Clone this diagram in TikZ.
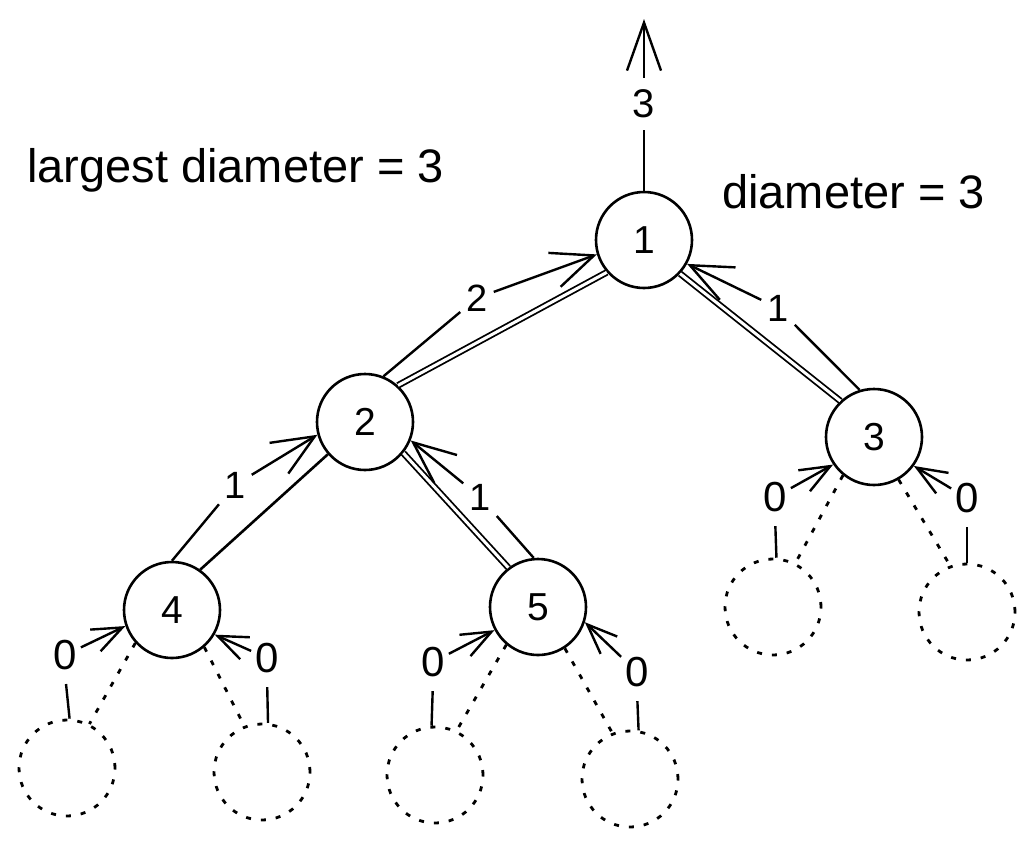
\documentclass[tikz,border=0pt]{standalone}
\usepackage{fontspec}
\setmainfont{Liberation Sans}
\usetikzlibrary{arrows.meta}
\begin{document}
\begin{tikzpicture}[x=1pt,y=-1pt,
  tnode/.style={circle,draw,line width=2.6pt,minimum size=96pt,inner sep=0pt,font=\fontsize{39}{42}\selectfont},
  dnode/.style={circle,draw,line width=2.8pt,dash pattern=on 5pt off 10pt,minimum size=96pt,inner sep=0pt},
  zlabel/.style={inner sep=4pt,font=\fontsize{42}{46}\selectfont},
  elabel/.style={inner sep=6pt,font=\fontsize{38}{42}\selectfont},
  toplabel/.style={inner sep=12pt,font=\fontsize{40}{44}\selectfont},
  titletext/.style={anchor=base west,inner sep=0pt,font=\fontsize{47}{50}\selectfont},
  treeedge/.style={line width=1.8pt,double,double distance=3pt},
  singleedge/.style={line width=2.6pt},
  dedge/.style={line width=2.8pt,dash pattern=on 5pt off 10pt},
  plainline/.style={line width=2.4pt},
  arrB/.style={line width=2.4pt,-{Straight Barb[length=48pt,width=34pt,line width=2.4pt]}},
  arrM/.style={line width=2.4pt,-{Straight Barb[length=42pt,width=36pt,line width=2.4pt]}},
  arrS/.style={line width=2.4pt,-{Straight Barb[length=30pt,width=24pt,line width=2.4pt]}}
]
\fill[white] (0,0) rectangle (1035,849);
\useasboundingbox (0,0) rectangle (1035,849);

% texts
\node[titletext] (title) at (27,182) {largest diameter = 3};
\node[titletext] (diam) at (722,208) {diameter = 3};

% tree nodes
\node[tnode] (n1) at (644,240) {1};
\node[tnode] (n2) at (365,422) {2};
\node[tnode] (n3) at (874,437) {3};
\node[tnode] (n4) at (172,610) {4};
\node[tnode] (n5) at (538,607) {5};

% dashed (empty) children
\node[dnode] (d4l) at (67,768) {};
\node[dnode] (d4r) at (262,772) {};
\node[dnode] (d5l) at (435,775) {};
\node[dnode] (d5r) at (630,779) {};
\node[dnode] (d3l) at (773,607) {};
\node[dnode] (d3r) at (967,612) {};

% tree edges
\draw[treeedge] (n2.48) -- (n1.221);
\draw[treeedge] (n1.317) -- (n3.133);
\draw[singleedge] (n4.55) -- (n2.221);
\draw[treeedge] (n2.321) -- (n5.127);

% dashed edges
\draw[dedge] (n4.222) -- (d4l.63);
\draw[dedge] (n4.311) -- (d4r.111);
\draw[dedge] (n5.230) -- (d5l.64);
\draw[dedge] (n5.303) -- (d5r.111);
\draw[dedge] (n3.231) -- (d3l.63);
\draw[dedge] (n3.300) -- (d3r.110);

% upward arrows with labels
\node[elabel] (l21) at (477,298) {2};
\draw[plainline] (n2.68) -- (l21);
\draw[arrM] (l21) -- (n1.197);

\node[elabel] (l31) at (778,308) {1};
\draw[plainline] (n3.107) -- (l31);
\draw[arrM] (l31) -- (n1.331);

\node[elabel] (l42) at (235,485) {1};
\draw[plainline] (n4.90) -- (l42);
\draw[arrM] (l42) -- (n2.195);

\node[elabel] (l52) at (480,497) {1};
\draw[plainline] (n5.95) -- (l52);
\draw[arrM] (l52) -- (n2.338);

% top arrow
\coordinate (top) at (644,19);
\node[toplabel] (l1top) at (644,104) {3};
\draw[plainline] (n1.north) -- (l1top);
\draw[arrB] (l1top) -- (top);

% zero labels
\node[zlabel] (z4l) at (65,655) {0};
\node[zlabel] (z4r) at (267,658) {0};
\node[zlabel] (z5l) at (433,662) {0};
\node[zlabel] (z5r) at (637,672) {0};
\node[zlabel] (z3l) at (775,497) {0};
\node[zlabel] (z3r) at (967,498) {0};

\draw[plainline,shorten >=10pt] (d4l.87) -- (z4l.south);
\draw[plainline,shorten >=10pt] (d4r.83) -- (z4r.south);
\draw[plainline,shorten >=10pt] (d5l.94) -- (z5l.south);
\draw[plainline,shorten >=10pt] (d5r.80) -- (z5r.south);
\draw[plainline,shorten >=10pt] (d3l.86) -- (z3l.south);
\draw[plainline,shorten >=10pt] (d3r.90) -- (z3r.south);

\draw[arrS] (z4l) -- (n4.199);
\draw[arrS] (z4r) -- (n4.330);
\draw[arrS] (z5l) -- (n5.208);
\draw[arrS] (z5r) -- (n5.342);
\draw[arrS] (z3l) -- (n3.214);
\draw[arrS] (z3r) -- (n3.324);
\end{tikzpicture}
\end{document}
